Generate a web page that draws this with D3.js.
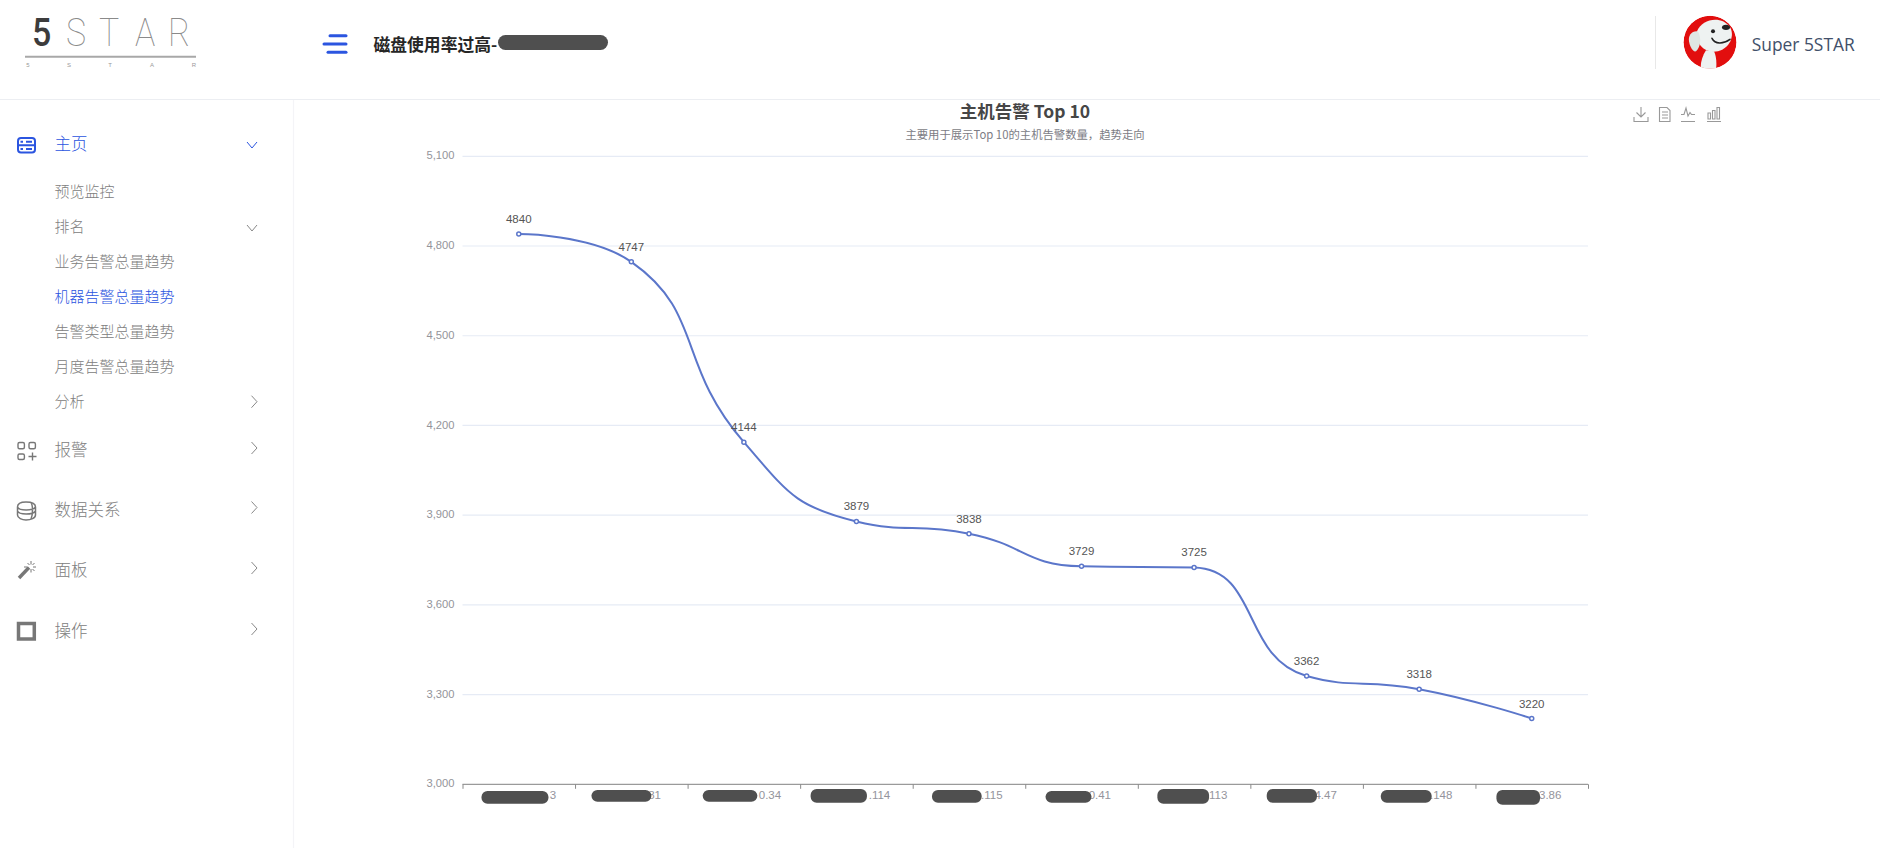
<!DOCTYPE html>
<html lang="zh-CN">
<head>
<meta charset="utf-8">
<title>主机告警 Top 10</title>
<script src="https://cdn.jsdelivr.net/npm/d3@7/dist/d3.min.js"></script>
<style>
html,body{margin:0;padding:0;background:#fff;overflow:hidden}
svg{display:block}
text{font-family:"Liberation Sans","Noto Sans CJK SC",sans-serif}
.cjk{font-family:"Noto Sans CJK SC",sans-serif}
</style>
</head>
<body>
<svg id="c" width="1880" height="848"></svg>
<script>
// ---- chart data ----
const categorySuffixes = ["3","81","0.34",".114",".115","0.41",".113","4.47",".148","3.86"];
const alarmCounts = [4840,4747,4144,3879,3838,3729,3725,3362,3318,3220];
const yTicks = [3000,3300,3600,3900,4200,4500,4800,5100];
const chartTitle = "主机告警 Top 10";
const chartSubtitle = "主要用于展示Top 10的主机告警数量，趋势走向";
// ---- page text ----
const pageHeading = "磁盘使用率过高-";
const userName = "Super 5STAR";
const logoLetters = ["5","S","T","A","R"];
const topMenus = ["主页","报警","数据关系","面板","操作"];
const subMenus = ["预览监控","排名","业务告警总量趋势","机器告警总量趋势","告警类型总量趋势","月度告警总量趋势","分析"];

// ---- layout (not data) ----
const W=1880,H=848, L=462.5,R=1588,T=156.3,B=784.3;
const BLUE="#2b55e0", GREY="#808080", LINE="#5b76ca";
// right end of each visible label and the redaction pill [left,right,top,bottom], relative to tick centre / axis
const labelEnds=[37.3,29.7,37.3,33.8,33.6,29.5,33.3,30.2,33.2,29.7];
const pills=[[-37.3,29.7,791,803.7],[-39.9,20.1,790,801.7],[-41.2,13.5,790,801.7],[-45.8,10.5,789,802.7],[-37,12.7,790,802.7],
             [-36,10,791,802.7],[-36.7,15,789,803.7],[-39.9,10.3,789,802.7],[-38.4,12.5,790,802.7],[-35.3,8.3,790,804.7]];
const topMenuY=[143,449,509,569,629.7];
const subMenuY=[190.5,225.5,260.5,295.5,330.5,365.5,400.5];

const svg=d3.select("#c");

// ECharts-style smoothing expressed as a d3 curve
function smoothCurve(context){
  let pts=[];
  return {
    areaStart(){},areaEnd(){},
    lineStart(){pts=[];},
    point(x,y){pts.push([+x,+y]);},
    lineEnd(){
      const s=0.5;
      let cx0=null,cy0=null;
      pts.forEach((p,i)=>{
        if(i===0){context.moveTo(p[0],p[1]);cx0=p[0];cy0=p[1];return;}
        const [x,y]=p,[px,py]=pts[i-1];
        let cx1=x,cy1=y,ncx=x,ncy=y;
        if(i<pts.length-1){
          const [nx,ny]=pts[i+1];
          let vx=nx-px,vy=ny-py;
          const lp=Math.hypot(x-px,y-py),ln=Math.hypot(nx-x,ny-y),r=ln/(ln+lp);
          cx1=x-vx*s*(1-r);cy1=y-vy*s*(1-r);
          ncx=x+vx*s*r;ncy=y+vy*s*r;
          ncx=Math.max(Math.min(ncx,Math.max(nx,x)),Math.min(nx,x));
          ncy=Math.max(Math.min(ncy,Math.max(ny,y)),Math.min(ny,y));
          vx=ncx-x;vy=ncy-y;
          cx1=x-vx*lp/ln;cy1=y-vy*lp/ln;
          cx1=Math.max(Math.min(cx1,Math.max(px,x)),Math.min(px,x));
          cy1=Math.max(Math.min(cy1,Math.max(py,y)),Math.min(py,y));
          vx=x-cx1;vy=y-cy1;
          ncx=x+vx*ln/lp;ncy=y+vy*ln/lp;
        }
        context.bezierCurveTo(cx0,cy0,cx1,cy1,x,y);
        cx0=ncx;cy0=ncy;
      });
    }
  };
}

// ---- chart ----
const x=d3.scaleBand().domain(d3.range(categorySuffixes.length)).range([L,R]);
const y=d3.scaleLinear().domain([3000,5100]).range([B,T]);
const fmt=d3.format(",");
const chart=svg.append("g");

chart.append("g").selectAll("line").data(yTicks.slice(1)).join("line")
  .attr("x1",L).attr("x2",R).attr("y1",d=>y(d)).attr("y2",d=>y(d))
  .attr("stroke","#e6ebf5").attr("stroke-width",1.2);

const yAxis=chart.append("g").attr("transform",`translate(${L},-1)`)
  .call(d3.axisLeft(y).tickValues(yTicks).tickFormat(fmt).tickSize(0).tickPadding(8));
yAxis.select(".domain").remove();
yAxis.selectAll("text").attr("fill","#94949a").attr("font-size",11.2).attr("font-family",'"Liberation Sans",sans-serif');

const xAxis=chart.append("g").attr("transform",`translate(0,${B})`)
  .call(d3.axisBottom(d3.scalePoint().domain(d3.range(11)).range([L,R])).tickSize(4.5).tickFormat(""));
xAxis.select(".domain").attr("stroke","#9a9a9a").attr("stroke-width",1.2).attr("d",`M${L},0H${R}`);
xAxis.selectAll("line").attr("stroke","#8a8a8a").attr("stroke-width",1);

const cx=i=>x(i)+x.bandwidth()/2;
chart.append("g").selectAll("text").data(categorySuffixes).join("text")
  .attr("x",(d,i)=>cx(i)+labelEnds[i]).attr("y",B+11)
  .attr("text-anchor","end").attr("dominant-baseline","central")
  .attr("font-size",11.5).attr("fill","#94949c").text(d=>d);
chart.append("g").selectAll("rect").data(pills).join("rect")
  .attr("x",(d,i)=>cx(i)+d[0]).attr("y",d=>d[2]).attr("width",d=>d[1]-d[0]).attr("height",d=>d[3]-d[2])
  .attr("rx",6).attr("fill","#4f4f4f");

const lineGen=d3.line().x((d,i)=>cx(i)).y(d=>y(d)).curve(smoothCurve);
chart.append("path").datum(alarmCounts).attr("d",lineGen).attr("fill","none").attr("stroke",LINE).attr("stroke-width",2);
chart.append("g").selectAll("circle").data(alarmCounts).join("circle")
  .attr("cx",(d,i)=>cx(i)).attr("cy",d=>y(d)).attr("r",2).attr("fill","#fff").attr("stroke",LINE).attr("stroke-width",1.5);
chart.append("g").selectAll("text").data(alarmCounts).join("text")
  .attr("x",(d,i)=>cx(i)).attr("y",d=>y(d)-15).attr("text-anchor","middle").attr("dominant-baseline","central")
  .attr("font-size",11.5).attr("fill","#555").text(d=>d);

chart.append("text").attr("class","cjk").attr("x",1025).attr("y",110.3).attr("text-anchor","middle").attr("dominant-baseline","central")
  .attr("font-size",17.5).attr("font-weight",700).attr("fill","#464646").text(chartTitle);
chart.append("text").attr("class","cjk").attr("x",1025).attr("y",134.3).attr("text-anchor","middle").attr("dominant-baseline","central")
  .attr("font-size",11.35).attr("fill","#7c7c84").text(chartSubtitle);

// toolbox icons
const tool=svg.append("g").attr("fill","none").attr("stroke","#999").attr("stroke-width",1.1);
tool.append("path").attr("d","M1641,107V117M1636.5,112.5L1641,117L1645.5,112.5M1634,117V121.5H1648V117");
tool.append("path").attr("d","M1659.5,107.5H1667L1670,110.5V121.5H1659.5ZM1662,112H1668M1662,115H1668M1662,118H1668");
tool.append("path").attr("d","M1681,114.5H1684L1686,108L1688,116L1690,112.5L1691.5,114.5H1695M1681,121.5H1695");
tool.append("path").attr("d","M1708,113h2.5v6h-2.5zM1712.5,110.5h2.5v8.5h-2.5zM1717,107.5h2.5v11.5h-2.5zM1707,121.5H1721");

// ---- page chrome ----
const chrome=svg.append("g");
chrome.append("line").attr("x1",0).attr("x2",W).attr("y1",99.5).attr("y2",99.5).attr("stroke","#eceef2").attr("stroke-width",1.2);
chrome.append("line").attr("x1",293.5).attr("x2",293.5).attr("y1",100).attr("y2",H).attr("stroke","#f4f4f7").attr("stroke-width",1.2);
chrome.append("line").attr("x1",1655.5).attr("x2",1655.5).attr("y1",16).attr("y2",69).attr("stroke","#e8e8e8");

// logo
const logoX=[32,66,99,135,168];
const logo=chrome.append("g");
logo.selectAll("text.big").data(logoLetters).join("text").attr("class","big")
  .attr("transform",(d,i)=>`translate(${logoX[i]},45.5) scale(.88,1)`)
  .attr("font-size",38.5).attr("fill",(d,i)=>i?"#8a8a8a":"#3c3c3c")
  .attr("font-weight",(d,i)=>i?100:500).style("font-family","Roboto,sans-serif").text(d=>d);
logo.append("line").attr("x1",25).attr("x2",196).attr("y1",56.7).attr("y2",56.7).attr("stroke","#a8a8a8").attr("stroke-width",2);
const logoSmallX=[28,69,110,152,194];
logo.selectAll("text.small").data(logoLetters).join("text").attr("class","small")
  .attr("x",(d,i)=>logoSmallX[i]).attr("y",64.5).attr("text-anchor","middle").attr("dominant-baseline","central")
  .attr("font-size",6).attr("fill","#999").text(d=>d);

// hamburger + heading
[[330,346,35.7],[324,346,44],[328,346,52.3]].forEach(d=>{
  chrome.append("line").attr("x1",d[0]).attr("x2",d[1]).attr("y1",d[2]).attr("y2",d[2])
    .attr("stroke",BLUE).attr("stroke-width",3).attr("stroke-linecap","round");
});
chrome.append("text").attr("class","cjk").attr("x",373.5).attr("y",43.5).attr("dominant-baseline","central")
  .attr("font-size",16.8).attr("font-weight",700).attr("fill","#262626").text(pageHeading);
chrome.append("rect").attr("x",498).attr("y",35).attr("width",110).attr("height",15).attr("rx",7.5).attr("fill","#4f4f4f");

// user
const av=chrome.append("g").attr("transform","translate(1710,42.3)");
av.append("clipPath").attr("id","avc").append("circle").attr("r",26.5);
const avg=av.append("g").attr("clip-path","url(#avc)");
avg.append("circle").attr("r",26.5).attr("fill","#e20e0e");
avg.append("path").attr("d","M-13,-11C-8,-24 12,-27 20,-15C25,-7 20,6 8,9C-2,11 -10,6 -12,-2Z").attr("fill","#eef2f1");
avg.append("path").attr("d","M-12,-11C-18,-12 -22,-7 -21,-1C-20,5 -17,10 -14,9C-10,6 -8,-4 -12,-11Z").attr("fill","#dfe5e3");
avg.append("path").attr("d","M-4,8C-8,14 -10,22 -9,27H6C7,20 6,13 4,9Z").attr("fill","#eef2f1");
avg.append("ellipse").attr("cx",16).attr("cy",-15).attr("rx",4).attr("ry",2.6).attr("fill","#222");
avg.append("circle").attr("cx",3).attr("cy",-11).attr("r",2).attr("fill","#222");
avg.append("path").attr("d","M2,-4C5,2 13,2 20,-3").attr("fill","none").attr("stroke","#222").attr("stroke-width",1.6).attr("stroke-linecap","round");
chrome.append("text").attr("x",1751.7).attr("y",44).attr("dominant-baseline","central")
  .attr("font-size",17.4).attr("fill","#42506a").style("font-family",'"Open Sans",sans-serif').text(userName);

// sidebar
const menu=chrome.append("g");
menu.selectAll("text.top").data(topMenus).join("text").attr("class","top cjk")
  .attr("x",54.5).attr("y",(d,i)=>topMenuY[i]).attr("dominant-baseline","central")
  .attr("font-size",16.5).attr("font-weight",300).attr("fill",(d,i)=>i?GREY:BLUE).text(d=>d);
menu.selectAll("text.sub").data(subMenus).join("text").attr("class","sub cjk")
  .attr("x",54.5).attr("y",(d,i)=>subMenuY[i]).attr("dominant-baseline","central")
  .attr("font-size",15).attr("font-weight",300).attr("fill",(d,i)=>i===3?BLUE:GREY).text(d=>d);
function chevDown(y0,c){menu.append("path").attr("d",`M247,${y0-3}L252,${y0+3}L257,${y0-3}`).attr("fill","none").attr("stroke",c).attr("stroke-width",1);}
function chevRight(y0){menu.append("path").attr("d",`M251.5,${y0-6}L257,${y0}L251.5,${y0+6}`).attr("fill","none").attr("stroke","#888").attr("stroke-width",1);}
chevDown(145,BLUE);chevDown(228,"#888");
[401.7,448,507.5,568,629].forEach(chevRight);

// sidebar icons
const ic=menu.append("g").attr("fill","none");
const i1=ic.append("g").attr("stroke",BLUE).attr("stroke-width",2);
i1.append("rect").attr("x",18).attr("y",138).attr("width",17).attr("height",14.5).attr("rx",3);
i1.append("path").attr("d","M18,145.2H35M26,141.8H32M26,149H32M20.5,141.8H23M20.5,149H23");
const i2=ic.append("g").attr("stroke","#777").attr("stroke-width",1.4);
i2.append("rect").attr("x",18).attr("y",442.5).attr("width",6.4).attr("height",6.3).attr("rx",1.5);
i2.append("rect").attr("x",29).attr("y",442.5).attr("width",6.4).attr("height",6.3).attr("rx",1.5);
i2.append("rect").attr("x",18).attr("y",454).attr("width",6.4).attr("height",5.5).attr("rx",1.5);
i2.append("path").attr("d","M32.5,452.5V460.5M28.5,456.5H36.5");
const i3=ic.append("g").attr("stroke","#777").attr("stroke-width",1.5);
i3.append("path").attr("d","M17.5,507C17.5,503 22,502 26,502C31,502 35.5,503 35.5,507V515C35.5,518 31,520 26,520C22,520 17.5,518 17.5,515ZM17.5,507C19,511 33,511 35.5,507M17.5,511C19,515 33,515 35.5,511M31,503C33,505 33,515 31,519");
const i4=ic.append("g").attr("stroke","#777").attr("stroke-width",1.6);
i4.append("path").attr("d","M19,578L29,567.5").attr("stroke-width",3.4);
i4.append("path").attr("d","M31,561V564.5M31,569V572.5M27,567H24M36,567H33M34.5,563L32.5,565M27.5,563L29.5,565M34.5,571L32.5,569").attr("stroke-width",1);
ic.append("rect").attr("x",18.5).attr("y",623.5).attr("width",15.8).attr("height",15.5).attr("stroke","#777").attr("stroke-width",3.5);
</script>
</body>
</html>
